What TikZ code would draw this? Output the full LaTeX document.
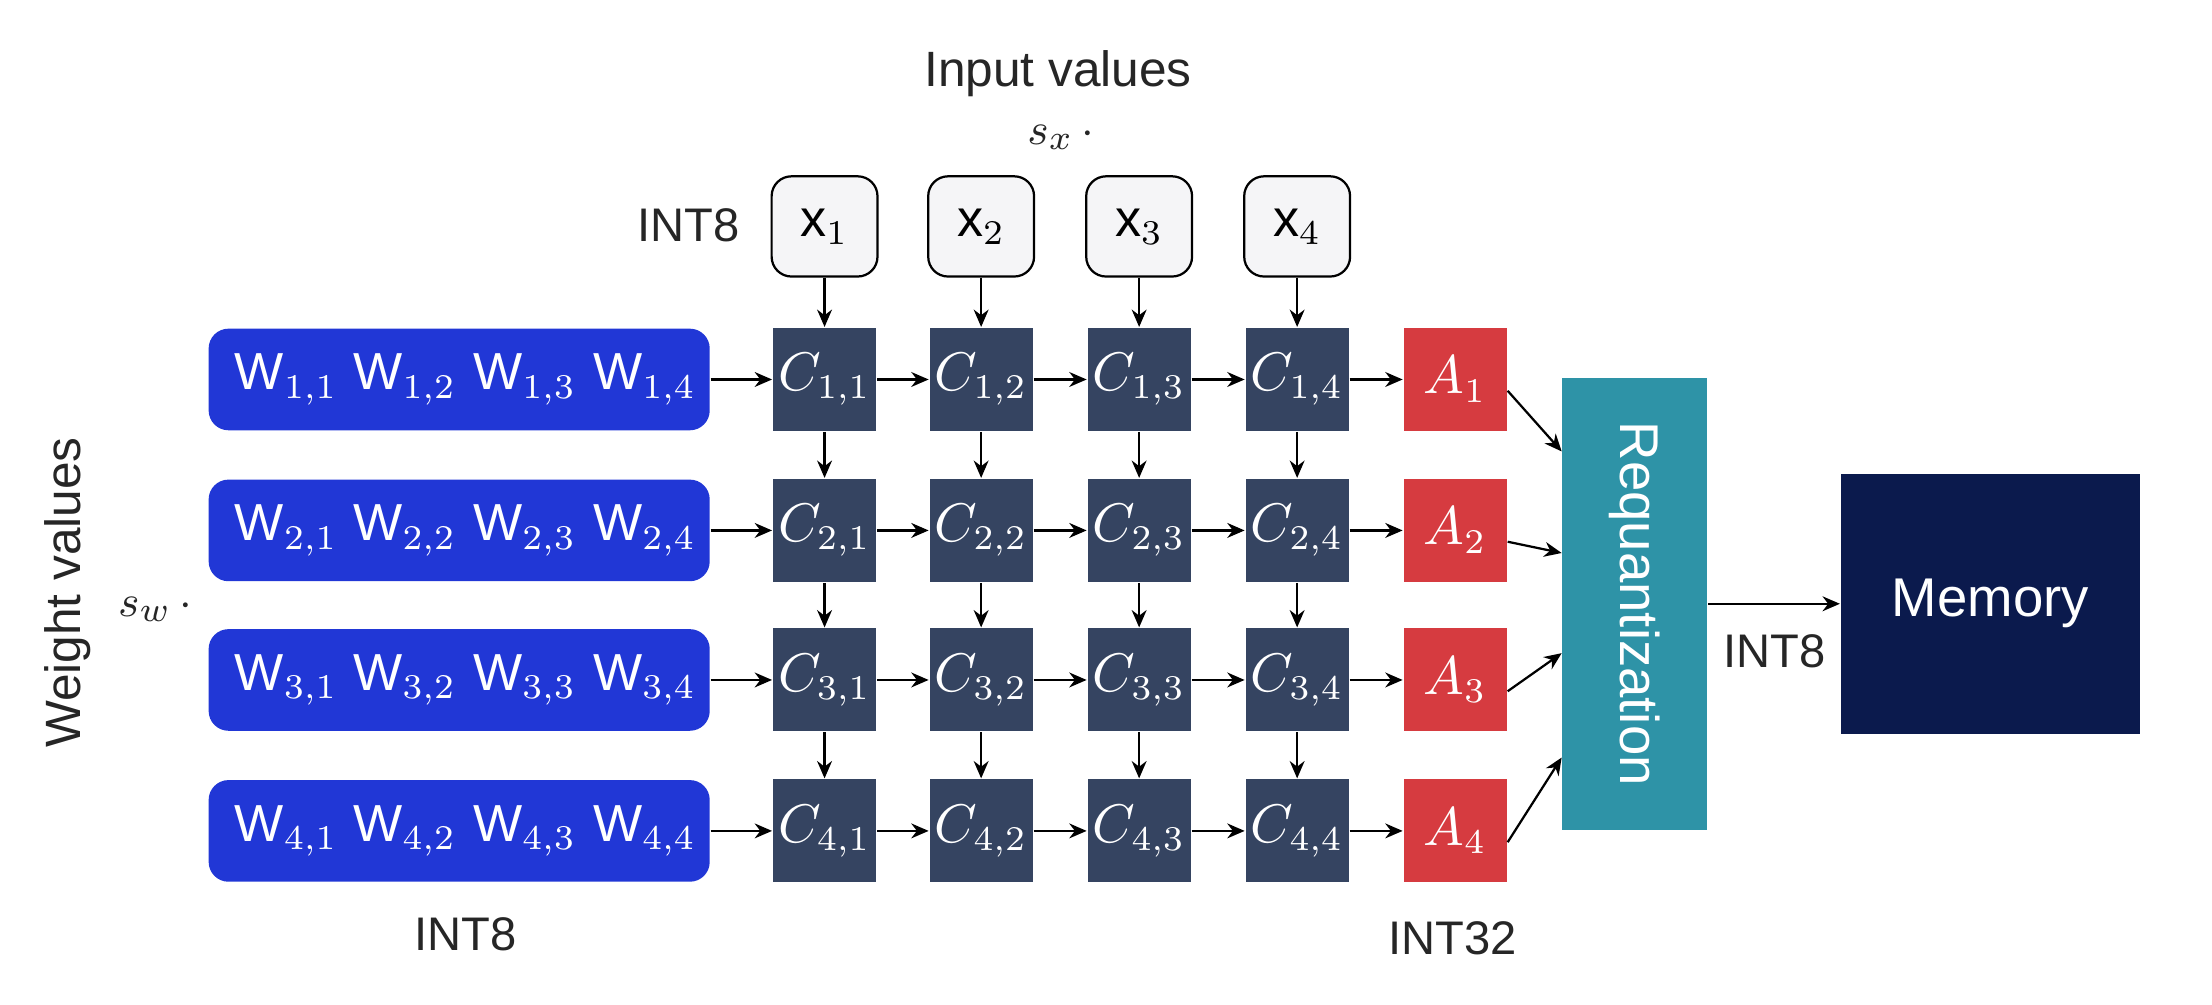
\documentclass[tikz,border=0pt]{standalone}
\usepackage{fontspec}
\setmainfont{Liberation Sans}
\usetikzlibrary{arrows.meta}
\definecolor{wblue}{HTML}{2137D6}
\definecolor{cgray}{HTML}{354461}
\definecolor{ared}{HTML}{D63B40}
\definecolor{rteal}{HTML}{2E93A7}
\definecolor{mnavy}{HTML}{0B1A4D}
\definecolor{xfill}{HTML}{F5F5F7}
\begin{document}
\begin{tikzpicture}[x=0.01cm,y=-0.01cm,
  cbox/.style={fill=cgray,minimum width=0.73cm,minimum height=0.73cm,text=white,inner sep=0pt,font=\fontsize{10.5}{12}\selectfont},
  abox/.style={fill=ared,minimum width=0.73cm,minimum height=0.73cm,text=white,inner sep=0pt,font=\fontsize{10.5}{12}\selectfont},
  xbox/.style={fill=xfill,draw=black,line width=0.45pt,rounded corners=4pt,minimum width=0.75cm,minimum height=0.71cm,inner sep=0pt,font=\fontsize{10.5}{12}\selectfont},
  lbl/.style={font=\fontsize{9.5}{11}\selectfont,text=black!85},
  arr/.style={-{Stealth[length=3.5pt,width=3pt]},line width=0.45pt}]
\useasboundingbox (0,0) rectangle (1568,712);
\foreach \r/\y in {1/269,2/376,3/482,4/589}{
  \node[fill=wblue,rounded corners=4pt,minimum width=3.55cm,minimum height=0.72cm,inner sep=0pt] (w\r) at (325.5,\y) {};
  \foreach \k/\xx in {1/203,2/287,3/372,4/457}
    \node[text=white,font=\fontsize{10.5}{12}\selectfont] at (\xx,\y) {W$_{\r,\k}$};
  \foreach \c/\x in {1/584.5,2/695.5,3/807.5,4/919.5}
    \node[cbox] (c\r\c) at (\x,\y) {$C_{\r,\c}$};
  \node[abox] (a\r) at (1031.5,\y) {$A_{\r}$};
}
\foreach \c/\x in {1/584.5,2/695.5,3/807.5,4/919.5}
  \node[xbox] (x\c) at (\x,160.5) {$\mathrm{x}_{\c}$};
\node[fill=rteal,minimum width=1.03cm,minimum height=3.2cm,inner sep=0pt] (req) at (1158.5,428) {};
\node[rotate=-90,text=white,font=\fontsize{11}{13}\selectfont] at (req.center) {Requantization};
\node[fill=mnavy,minimum width=2.12cm,minimum height=1.84cm,text=white,font=\fontsize{11}{13}\selectfont] (mem) at (1411,428) {Memory};
\node[lbl,font=\fontsize{10}{12}\selectfont] (iv) at (750,52) {Input values};
\node[lbl] (sx) at (752,97) {$s_x\,\cdot$};
\node[lbl] (i1) at (488,160) {INT8};
\node[lbl,rotate=90,font=\fontsize{10}{12}\selectfont] (wv) at (48,420) {Weight values};
\node[lbl] (sw) at (110,432) {$s_w\,\cdot$};
\node[lbl] (i2) at (330,662) {INT8};
\node[lbl] (i3) at (1030,665) {INT32};
\node[lbl] (i4) at (1258,462) {INT8};
\foreach \c in {1,2,3,4}{
  \draw[arr] (x\c) -- (c1\c);
  \draw[arr] (c1\c) -- (c2\c);
  \draw[arr] (c2\c) -- (c3\c);
  \draw[arr] (c3\c) -- (c4\c);
}
\foreach \r/\ty in {1/320,2/392,3/463,4/537}{
  \draw[arr] (w\r) -- (c\r1);
  \draw[arr] (c\r1) -- (c\r2);
  \draw[arr] (c\r2) -- (c\r3);
  \draw[arr] (c\r3) -- (c\r4);
  \draw[arr] (c\r4) -- (a\r);
  \coordinate (t\r) at (1107,\ty);
  \draw[arr] ([yshift=-0.08cm]a\r.east) -- (t\r);
}
\draw[arr] (req) -- (mem);
\end{tikzpicture}
\end{document}
